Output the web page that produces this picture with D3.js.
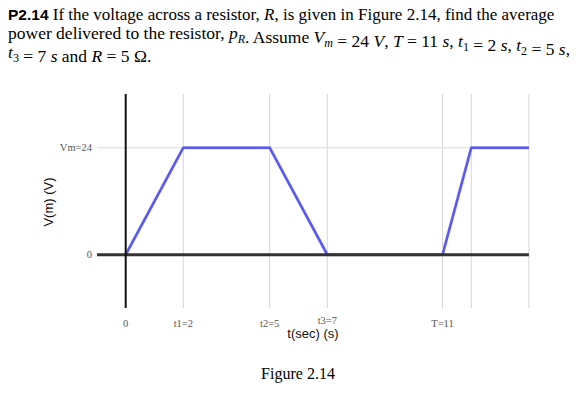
<!DOCTYPE html>
<html>
<head>
<meta charset="utf-8">
<script src="https://cdn.jsdelivr.net/npm/d3@7"></script>
<style>
  body { margin: 0; background: #fff; }
  svg { display: block; }
</style>
</head>
<body>
<script>
// waveform data
var times = [0, 2, 5, 7, 11, 12, 14];
var volts = [0, 24, 24, 0, 0, 24, 24];
var xTickValues = [0, 2, 5, 7, 11];
var xTickLabels = ["0", "t1=2", "t2=5", "t3=7", "T=11"];
var xGridValues = [2, 5, 7, 11, 12, 14];
var yTickValues = [0, 24];
var yTickLabels = ["0", "Vm=24"];

var W = 577, H = 403;
var svg = d3.select("body").append("svg").attr("width", W).attr("height", H);

// problem statement
var serif = "'Liberation Serif', 'Times New Roman', serif";
var title = svg.append("text").attr("font-family", serif).attr("font-size", 17.5).attr("fill", "#000");

var l1 = title.append("tspan").attr("x", 8).attr("y", 19.5);
l1.append("tspan").attr("font-weight", "bold").attr("font-family", "'Liberation Sans', Arial, sans-serif").attr("font-size", 15.5).text("P2.14");
l1.append("tspan").attr("font-size", 17).text(" If the voltage across a resistor, ");
l1.append("tspan").attr("font-size", 17).attr("font-style", "italic").text("R");
l1.append("tspan").attr("font-size", 17).text(", is given in Figure 2.14, find the average");

function sub(parent, txt, italic) {
  parent.append("tspan").attr("font-size", 12).attr("dy", 4)
    .attr("font-style", italic ? "italic" : null).text(txt);
  parent.append("tspan").attr("dy", -4).text("");
}
function it(parent, txt) { parent.append("tspan").attr("font-style", "italic").text(txt); }
function tx(parent, txt) { parent.append("tspan").text(txt); }

var l2 = title.append("tspan").attr("x", 8).attr("y", 39);
tx(l2, "power delivered to the resistor, ");
it(l2, "p"); sub(l2, "R", true);
tx(l2, ". Assume ");
it(l2, "V"); sub(l2, "m", true);
tx(l2, " = 24 "); it(l2, "V"); tx(l2, ", "); it(l2, "T"); tx(l2, " = 11 "); it(l2, "s"); tx(l2, ", ");
it(l2, "t"); sub(l2, "1"); tx(l2, " = 2 "); it(l2, "s"); tx(l2, ", ");
it(l2, "t"); sub(l2, "2"); tx(l2, " = 5 "); it(l2, "s"); tx(l2, ",");

var l3 = title.append("tspan").attr("x", 8).attr("y", 58);
it(l3, "t"); sub(l3, "3"); tx(l3, " = 7 "); it(l3, "s"); tx(l3, " and  "); it(l3, "R"); tx(l3, " = 5 Ω.");

// scales
var x = d3.scaleLinear().domain([0, 14]).range([125.7, 528.9]);
var y = d3.scaleLinear().domain([0, 24]).range([254.7, 147.7]);
var gridTop = 94, gridBottom = 308, gridLeft = 97;

// vertical gridlines
svg.selectAll(".vgrid").data(xGridValues).enter().append("line")
  .attr("class", "vgrid")
  .attr("x1", function (d) { return x(d); }).attr("x2", function (d) { return x(d); })
  .attr("y1", gridTop).attr("y2", gridBottom)
  .attr("stroke", "#d6d6d6").attr("stroke-width", 1);

// Vm gridline
svg.append("line")
  .attr("x1", gridLeft).attr("x2", x(14))
  .attr("y1", y(24)).attr("y2", y(24))
  .attr("stroke", "#e6e6e6").attr("stroke-width", 1.5);

// waveform (drawn under the axes)
var pts = times.map(function (t, i) { return [t, volts[i]]; });
var line = d3.line().x(function (d) { return x(d[0]); }).y(function (d) { return y(d[1]); });
svg.append("path").datum(pts).attr("d", line)
  .attr("fill", "none").attr("stroke", "#dcdcee").attr("stroke-width", 3.5);
svg.append("path").datum(pts).attr("d", line)
  .attr("fill", "none").attr("stroke", "#5858f2").attr("stroke-width", 2.5)
  .attr("stroke-linejoin", "miter");

// zero line and vertical axis
svg.append("line")
  .attr("x1", gridLeft).attr("x2", x(14))
  .attr("y1", y(0)).attr("y2", y(0))
  .attr("stroke", "#333").attr("stroke-width", 3);
svg.append("line")
  .attr("x1", x(0)).attr("x2", x(0))
  .attr("y1", gridTop).attr("y2", gridBottom)
  .attr("stroke", "#111").attr("stroke-width", 2);

// tick labels
svg.selectAll(".xlab").data(xTickValues).enter().append("text")
  .attr("class", "xlab")
  .attr("x", function (d) { return x(d); })
  .attr("y", function (d, i) { return i === 3 ? 324 : 327; })
  .attr("text-anchor", "middle")
  .attr("font-family", serif).attr("font-size", 10.5).attr("fill", "#555")
  .text(function (d, i) { return xTickLabels[i]; });

svg.selectAll(".ylab").data(yTickValues).enter().append("text")
  .attr("class", "ylab")
  .attr("x", 92)
  .attr("y", function (d) { return y(d) + 3.5; })
  .attr("text-anchor", "end")
  .attr("font-family", serif).attr("font-size", 10.5).attr("fill", "#555")
  .text(function (d, i) { return yTickLabels[i]; });

// axis titles
svg.append("text")
  .attr("x", 313).attr("y", 338)
  .attr("text-anchor", "middle")
  .attr("font-family", "'Liberation Sans', Arial, sans-serif").attr("font-size", 13).attr("fill", "#111")
  .text("t(sec) (s)");
svg.append("text")
  .attr("transform", "translate(53,202) rotate(-90)")
  .attr("text-anchor", "middle")
  .attr("font-family", "'Liberation Sans', Arial, sans-serif").attr("font-size", 13).attr("fill", "#111")
  .text("V(m) (V)");

// caption
svg.append("text")
  .attr("x", 298).attr("y", 379)
  .attr("text-anchor", "middle")
  .attr("font-family", serif).attr("font-size", 16).attr("fill", "#000")
  .text("Figure 2.14");
</script>
</body>
</html>
